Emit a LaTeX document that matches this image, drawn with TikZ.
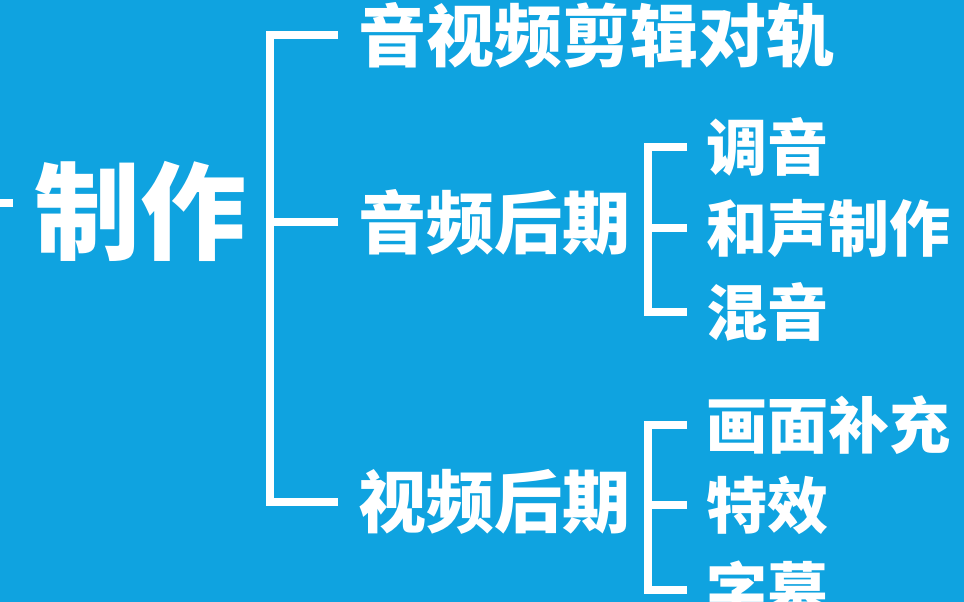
\documentclass[tikz,border=0pt]{standalone}
\usepackage{fontspec}
\newfontfamily\cjk{Noto Sans CJK SC}
\definecolor{mapblue}{HTML}{0FA3E0}

\begin{document}
\begin{tikzpicture}[x=1pt,y=-1pt,
    item/.style={anchor=west, inner sep=0pt, text=white, font=\cjk\bfseries\fontsize{68}{68}\selectfont},
    leaf/.style={item, font=\cjk\bfseries\fontsize{61}{61}\selectfont},
    rootitem/.style={item, font=\cjk\bfseries\fontsize{106}{106}\selectfont},
    link/.style={draw=white, line width=7.5pt, line join=miter}]
                % Background
                \fill[mapblue] (0,0) rectangle (964,602);
                \useasboundingbox (0,0) rectangle (964,602);

                % Root and first level
                \node[rootitem] (make) at (34,211) {制作};
                \node[item] (edit) at (358,35) {音视频剪辑对轨};
                \node[item] (audio) at (358,222) {音频后期};
                \node[item] (video) at (358,502) {视频后期};

                % Audio post
                \node[leaf] (tune) at (706,147) {调音};
                \node[leaf] (harm) at (706,228) {和声制作};
                \node[leaf] (mix) at (706,312) {混音};

                % Video post
                \node[leaf] (pic) at (706,425) {画面补充};
                \node[leaf] (fx) at (706,505) {特效};
                \node[leaf] (subs) at (706,590) {字幕};

                % Brackets
                \coordinate (in) at (0,203);
                \draw[link] (in) -- ([xshift=-21pt]make.west |- in);

                \draw[link] ([xshift=-20pt]edit.west) -- ++(-68,0) |- ([xshift=-20pt]video.west);
                \draw[link] ([xshift=-20pt]audio.west) -- ++(-68,0);

                \draw[link] ([xshift=-19pt]tune.west) -- ++(-39,0) |- ([xshift=-19pt]mix.west);
                \draw[link] ([xshift=-19pt]harm.west) -- ++(-39,0);

                \draw[link] ([xshift=-19pt]pic.west) -- ++(-39,0) |- ([xshift=-19pt]subs.west);
                \draw[link] ([xshift=-19pt]fx.west) -- ++(-39,0);
            \end{tikzpicture}
\end{document}
